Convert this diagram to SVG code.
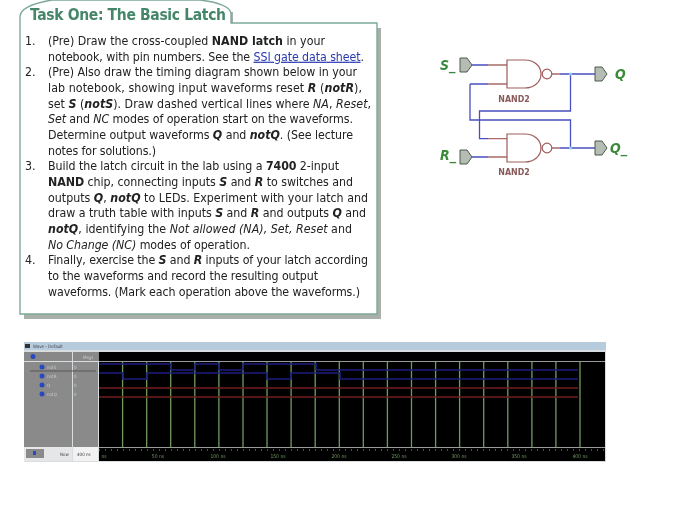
<svg xmlns="http://www.w3.org/2000/svg" width="700" height="524" viewBox="0 0 700 524">
<style>
text{font-family:"DejaVu Sans Condensed","DejaVu Sans","Noto Sans",sans-serif}
.b{font-size:12.3px;fill:#222}
.k{font-weight:bold}
.i{font-style:italic}
.ki{font-weight:bold;font-style:italic}
.w{fill:none;stroke:#4a50c0;stroke-width:1.3}
.r{fill:none;stroke:#a86a6a;stroke-width:1.3}
.g{fill:#fff;stroke:#a05c5c;stroke-width:1.2}
.p{fill:#b4bcb4;stroke:#4a5a4a;stroke-width:1}
.lb{font-size:14px;font-weight:bold;font-style:italic;fill:#3a8a3a}
.n{font-size:8.800px;fill:#8a5a5a;font-weight:bold}
.v{stroke:#6f9a60;stroke-width:1.300}
.bl{fill:none;stroke:#1a2080;stroke-width:1.700}
.rd{fill:none;stroke:#741a1a;stroke-width:1.700}
.s{font-size:4.500px;fill:#c8ccd0}
.t{font-size:5px;fill:#6f9a60}
</style>
<defs>
<filter id="b1" x="-5%" y="-5%" width="110%" height="110%"><feGaussianBlur stdDeviation="0.35"/></filter>
<filter id="b2" x="-5%" y="-5%" width="110%" height="110%"><feGaussianBlur stdDeviation="0.6"/></filter>
<path id="pin" d="M0,-7H7L12,0L7,7H0Z"/>
<g id="gate"><path d="M0,-14H18C27,-14 34,-8 34,0C34,8 27,14 18,14H0Z"/><circle cx="40" cy="0" r="4.800"/></g>
</defs>
<rect width="700" height="524" fill="#fff"/>
<g id="task-box" filter="url(#b1)">
<rect x="24" y="28" width="357" height="291" fill="#a9b0aa"/>
<rect x="229" y="12" width="4" height="12" fill="#a9b0aa"/>
<path d="M20,23V17C20,8 34,3 52,0H200C218,2 231,7 231,14V23H377V314H20Z" fill="#fff" stroke="#7ea99a" stroke-width="1.400"/>
<text x="30" y="20" font-size="15.500px" font-weight="bold" fill="#44866a" textLength="196" lengthAdjust="spacing">Task One: The Basic Latch</text>
<g class="b">
<text x="25" y="45">1.</text>
<text x="48" y="45" textLength="277">(Pre) Draw the cross-coupled <tspan class="k">NAND latch</tspan> in your</text>
<text x="48" y="60.700" textLength="316">notebook, with pin numbers. See the <tspan fill="#2a3ab0" text-decoration="underline">SSI gate data sheet</tspan>.</text>
<text x="25" y="76.300">2.</text>
<text x="48" y="76.300" textLength="309">(Pre) Also draw the timing diagram shown below in your</text>
<text x="48" y="92" textLength="314">lab notebook, showing input waveforms reset <tspan class="ki">R</tspan> (<tspan class="ki">notR</tspan>),</text>
<text x="48" y="107.600" textLength="323">set <tspan class="ki">S</tspan> (<tspan class="ki">notS</tspan>).  Draw dashed vertical lines where <tspan class="i">NA</tspan>, <tspan class="i">Reset</tspan>,</text>
<text x="48" y="123.300" textLength="305"><tspan class="i">Set</tspan> and <tspan class="i">NC</tspan> modes of operation start on the waveforms.</text>
<text x="48" y="139" textLength="305">Determine output waveforms <tspan class="ki">Q</tspan> and <tspan class="ki">notQ</tspan>. (See lecture</text>
<text x="48" y="154.600" textLength="108">notes for solutions.)</text>
<text x="25" y="170.300">3.</text>
<text x="48" y="170.300" textLength="291">Build the latch circuit in the lab using a <tspan class="k">7400</tspan> 2-input</text>
<text x="48" y="186" textLength="305"><tspan class="k">NAND</tspan> chip, connecting inputs <tspan class="ki">S</tspan> and <tspan class="ki">R</tspan> to switches and</text>
<text x="48" y="201.600" textLength="320">outputs <tspan class="ki">Q</tspan>, <tspan class="ki">notQ</tspan> to LEDs.  Experiment with your latch and</text>
<text x="48" y="217.300" textLength="318">draw a truth table with inputs <tspan class="ki">S</tspan> and <tspan class="ki">R</tspan> and outputs <tspan class="ki">Q</tspan> and</text>
<text x="48" y="233" textLength="304"><tspan class="ki">notQ</tspan>, identifying the <tspan class="i">Not allowed (NA), Set, Reset</tspan>  and</text>
<text x="48" y="248.600" textLength="202"><tspan class="i">No Change (NC)</tspan> modes of operation.</text>
<text x="25" y="264.300">4.</text>
<text x="48" y="264.300" textLength="320">Finally, exercise the <tspan class="ki">S</tspan> and <tspan class="ki">R</tspan> inputs of your latch according</text>
<text x="48" y="280" textLength="270">to the waveforms and record the resulting output</text>
<text x="48" y="295.600" textLength="312">waveforms. (Mark each operation above the waveforms.)</text>
</g>
</g>
<g id="latch" filter="url(#b1)">
<g id="connectors">
<path class="w" d="M472,65H488M470,84H488M470,84V120H570.500V148M570.500,74V111H479.500V138.700H488M472,157H488M560,74H595M560,148H595"/>
<path class="r" d="M488,65H507M488,84H507M488,138.700H507M488,157H507M552,74H560M552,148H560"/>
<circle cx="570.500" cy="74" r="1.600" fill="#7fd0f0"/>
<circle cx="570.500" cy="148" r="1.600" fill="#7fd0f0"/>
</g>
<g id="gate1"><use href="#gate" class="g" x="507" y="74"/><text class="n" x="514" y="102" text-anchor="middle">NAND2</text></g>
<g id="gate2"><use href="#gate" class="g" x="507" y="148"/><text class="n" x="514" y="175" text-anchor="middle">NAND2</text></g>
<g id="pin-s"><use href="#pin" class="p" x="460" y="65"/><text class="lb" x="440" y="70">S_</text></g>
<g id="pin-r"><use href="#pin" class="p" x="460" y="157"/><text class="lb" x="440" y="160">R_</text></g>
<g id="pin-q"><use href="#pin" class="p" x="595" y="74"/><text class="lb" x="615" y="79">Q</text></g>
<g id="pin-qn"><use href="#pin" class="p" x="595" y="148"/><text class="lb" x="610" y="153">Q_</text></g>
</g>
<g id="wave-window" filter="url(#b2)">
<rect x="24" y="342" width="582" height="120" fill="#d8dde0"/>
<rect x="24" y="342" width="582" height="8" fill="#b6cbdc"/>
<rect x="25" y="344" width="5" height="4" fill="#333"/>
<text class="s" x="33" y="348" style="fill:#445">Wave - Default</text>
<rect x="24" y="352" width="48" height="9" fill="#888"/>
<rect x="73" y="352" width="26" height="9" fill="#888"/>
<circle cx="33" cy="356.500" r="2.500" fill="#2a4ac0"/>
<text class="s" x="83" y="359">Msgs</text>
<rect x="99" y="352" width="506" height="9" fill="#000"/>
<rect x="24" y="362" width="48" height="85" fill="#8a8a8a"/>
<rect x="73" y="362" width="25" height="85" fill="#8a8a8a"/>
<path d="M30,371H96" stroke="#555" stroke-width="1"/>
<g fill="#2a4ac0"><circle cx="42" cy="367" r="2.500"/><circle cx="42" cy="376" r="2.500"/><circle cx="42" cy="385" r="2.500"/><circle cx="42" cy="394" r="2.500"/></g>
<g class="s"><text x="47" y="369">notS</text><text x="47" y="378">notR</text><text x="47" y="387">Q</text><text x="47" y="396">notQ</text><text x="74" y="369">0</text><text x="74" y="378">0</text><text x="74" y="387">0</text><text x="74" y="396">0</text></g>
<rect x="99" y="362" width="506" height="85" fill="#000"/>
<g class="v">
<path d="M122.600,362V447M146.700,362V447M170.700,362V447M194.800,362V447M218.900,362V447M243,362V447M267,362V447M291.100,362V447M315.200,362V447M339.300,362V447M363.300,362V447M387.400,362V447M411.500,362V447M435.600,362V447M459.600,362V447M483.700,362V447M507.800,362V447M531.900,362V447M555.900,362V447M580,362V447"/>
</g>
<path class="bl" d="M99,364H171V370H195V364H219V370H243V364H316V370H578"/>
<path class="bl" d="M99,373H123V379H147V373H267V379H291V373H340V379H578"/>
<path class="rd" d="M99,388H578M99,397H578"/>
<rect x="24" y="447" width="48" height="14" fill="#e4e6e8"/>
<rect x="26" y="449" width="18" height="9" fill="#8a8a8a"/>
<rect x="33" y="451" width="3" height="4" fill="#2a4ac0"/>
<rect x="73" y="447" width="25" height="14" fill="#f2f2f2"/>
<text class="s" x="60" y="456" style="fill:#444">Now</text>
<text class="s" x="77" y="456" style="fill:#444">400 ns</text>
<rect x="99" y="447" width="506" height="14" fill="#000"/>
<path d="M99,447.500H605" stroke="#9a9a9a" stroke-width="1"/>
<path d="M99,361.500H605" stroke="#9a9a9a" stroke-width="1"/>
<path d="M99,450H605" stroke="#9a9a9a" stroke-width="1" stroke-dasharray="1 5"/>
<g class="t" text-anchor="middle"><text x="104" y="458">ns</text><text x="158" y="458">50 ns</text><text x="218" y="458">100 ns</text><text x="278" y="458">150 ns</text><text x="339" y="458">200 ns</text><text x="399" y="458">250 ns</text><text x="459" y="458">300 ns</text><text x="519" y="458">350 ns</text><text x="580" y="458">400 ns</text></g>
</g>
</svg>
